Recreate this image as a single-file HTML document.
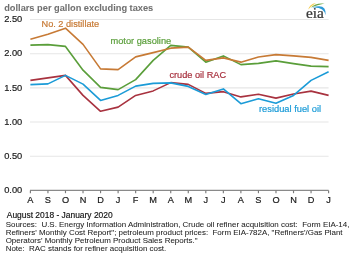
<!DOCTYPE html>
<html><head><meta charset="utf-8"><style>
html,body{margin:0;padding:0;background:#fff;}
body{width:352px;height:256px;overflow:hidden;position:relative;font-family:"Liberation Sans",sans-serif;}
svg{position:absolute;left:0;top:0;will-change:transform;}
text{white-space:pre;}
</style></head><body>
<svg width="352" height="256" viewBox="0 0 352 256" font-family="Liberation Sans" xml:space="preserve">
<text x="4.20" y="10.70" font-size="9.25" fill="#707070" stroke="#707070" stroke-width="0.05" font-weight="bold">dollars per gallon excluding taxes</text>
<line x1="30" x2="328.6" y1="156.23" y2="156.23" stroke="#e6e6e6" stroke-width="1.1"/><line x1="30" x2="328.6" y1="122.06" y2="122.06" stroke="#e6e6e6" stroke-width="1.1"/><line x1="30" x2="328.6" y1="87.89" y2="87.89" stroke="#e6e6e6" stroke-width="1.1"/><line x1="30" x2="328.6" y1="53.72" y2="53.72" stroke="#e6e6e6" stroke-width="1.1"/><line x1="30" x2="328.6" y1="19.55" y2="19.55" stroke="#e6e6e6" stroke-width="1.1"/>
<line x1="30" x2="328.6" y1="190.4" y2="190.4" stroke="#8a8a8a" stroke-width="1.1"/>
<line x1="30.40" x2="30.40" y1="190.4" y2="193.20000000000002" stroke="#7a7a7a" stroke-width="1.15"/><line x1="47.94" x2="47.94" y1="190.4" y2="193.20000000000002" stroke="#7a7a7a" stroke-width="1.15"/><line x1="65.48" x2="65.48" y1="190.4" y2="193.20000000000002" stroke="#7a7a7a" stroke-width="1.15"/><line x1="83.02" x2="83.02" y1="190.4" y2="193.20000000000002" stroke="#7a7a7a" stroke-width="1.15"/><line x1="100.56" x2="100.56" y1="190.4" y2="193.20000000000002" stroke="#7a7a7a" stroke-width="1.15"/><line x1="118.11" x2="118.11" y1="190.4" y2="193.20000000000002" stroke="#7a7a7a" stroke-width="1.15"/><line x1="135.65" x2="135.65" y1="190.4" y2="193.20000000000002" stroke="#7a7a7a" stroke-width="1.15"/><line x1="153.19" x2="153.19" y1="190.4" y2="193.20000000000002" stroke="#7a7a7a" stroke-width="1.15"/><line x1="170.73" x2="170.73" y1="190.4" y2="193.20000000000002" stroke="#7a7a7a" stroke-width="1.15"/><line x1="188.27" x2="188.27" y1="190.4" y2="193.20000000000002" stroke="#7a7a7a" stroke-width="1.15"/><line x1="205.81" x2="205.81" y1="190.4" y2="193.20000000000002" stroke="#7a7a7a" stroke-width="1.15"/><line x1="223.35" x2="223.35" y1="190.4" y2="193.20000000000002" stroke="#7a7a7a" stroke-width="1.15"/><line x1="240.89" x2="240.89" y1="190.4" y2="193.20000000000002" stroke="#7a7a7a" stroke-width="1.15"/><line x1="258.44" x2="258.44" y1="190.4" y2="193.20000000000002" stroke="#7a7a7a" stroke-width="1.15"/><line x1="275.98" x2="275.98" y1="190.4" y2="193.20000000000002" stroke="#7a7a7a" stroke-width="1.15"/><line x1="293.52" x2="293.52" y1="190.4" y2="193.20000000000002" stroke="#7a7a7a" stroke-width="1.15"/><line x1="311.06" x2="311.06" y1="190.4" y2="193.20000000000002" stroke="#7a7a7a" stroke-width="1.15"/><line x1="328.60" x2="328.60" y1="190.4" y2="193.20000000000002" stroke="#7a7a7a" stroke-width="1.15"/>
<g transform="translate(22.3 0) scale(0.96 1) translate(-22.3 0)"><text x="22.30" y="193.05" font-size="9.7" fill="#1a1a1a" stroke="#1a1a1a" stroke-width="0.2" text-anchor="end">0.00</text><text x="22.30" y="158.88" font-size="9.7" fill="#1a1a1a" stroke="#1a1a1a" stroke-width="0.2" text-anchor="end">0.50</text><text x="22.30" y="124.71" font-size="9.7" fill="#1a1a1a" stroke="#1a1a1a" stroke-width="0.2" text-anchor="end">1.00</text><text x="22.30" y="90.54" font-size="9.7" fill="#1a1a1a" stroke="#1a1a1a" stroke-width="0.2" text-anchor="end">1.50</text><text x="22.30" y="56.37" font-size="9.7" fill="#1a1a1a" stroke="#1a1a1a" stroke-width="0.2" text-anchor="end">2.00</text><text x="22.30" y="22.20" font-size="9.7" fill="#1a1a1a" stroke="#1a1a1a" stroke-width="0.2" text-anchor="end">2.50</text></g>
<text x="30.40" y="203.10" font-size="9.2" fill="#1a1a1a" stroke="#1a1a1a" stroke-width="0.2" text-anchor="middle">A</text><text x="47.94" y="203.10" font-size="9.2" fill="#1a1a1a" stroke="#1a1a1a" stroke-width="0.2" text-anchor="middle">S</text><text x="65.48" y="203.10" font-size="9.2" fill="#1a1a1a" stroke="#1a1a1a" stroke-width="0.2" text-anchor="middle">O</text><text x="83.02" y="203.10" font-size="9.2" fill="#1a1a1a" stroke="#1a1a1a" stroke-width="0.2" text-anchor="middle">N</text><text x="100.56" y="203.10" font-size="9.2" fill="#1a1a1a" stroke="#1a1a1a" stroke-width="0.2" text-anchor="middle">D</text><text x="118.11" y="203.10" font-size="9.2" fill="#1a1a1a" stroke="#1a1a1a" stroke-width="0.2" text-anchor="middle">J</text><text x="135.65" y="203.10" font-size="9.2" fill="#1a1a1a" stroke="#1a1a1a" stroke-width="0.2" text-anchor="middle">F</text><text x="153.19" y="203.10" font-size="9.2" fill="#1a1a1a" stroke="#1a1a1a" stroke-width="0.2" text-anchor="middle">M</text><text x="170.73" y="203.10" font-size="9.2" fill="#1a1a1a" stroke="#1a1a1a" stroke-width="0.2" text-anchor="middle">A</text><text x="188.27" y="203.10" font-size="9.2" fill="#1a1a1a" stroke="#1a1a1a" stroke-width="0.2" text-anchor="middle">M</text><text x="205.81" y="203.10" font-size="9.2" fill="#1a1a1a" stroke="#1a1a1a" stroke-width="0.2" text-anchor="middle">J</text><text x="223.35" y="203.10" font-size="9.2" fill="#1a1a1a" stroke="#1a1a1a" stroke-width="0.2" text-anchor="middle">J</text><text x="240.89" y="203.10" font-size="9.2" fill="#1a1a1a" stroke="#1a1a1a" stroke-width="0.2" text-anchor="middle">A</text><text x="258.44" y="203.10" font-size="9.2" fill="#1a1a1a" stroke="#1a1a1a" stroke-width="0.2" text-anchor="middle">S</text><text x="275.98" y="203.10" font-size="9.2" fill="#1a1a1a" stroke="#1a1a1a" stroke-width="0.2" text-anchor="middle">O</text><text x="293.52" y="203.10" font-size="9.2" fill="#1a1a1a" stroke="#1a1a1a" stroke-width="0.2" text-anchor="middle">N</text><text x="311.06" y="203.10" font-size="9.2" fill="#1a1a1a" stroke="#1a1a1a" stroke-width="0.2" text-anchor="middle">D</text><text x="328.60" y="203.10" font-size="9.2" fill="#1a1a1a" stroke="#1a1a1a" stroke-width="0.2" text-anchor="middle">J</text>
<g fill="none" stroke-width="1.6" stroke-linejoin="round">
<polyline points="30.40,45.15 47.94,44.65 65.48,46.40 83.02,70.15 100.56,87.40 118.11,89.65 135.65,79.65 153.19,60.40 170.73,45.40 188.27,47.15 205.81,62.15 223.35,55.90 240.89,64.65 258.44,63.40 275.98,60.90 293.52,63.65 311.06,66.15 328.60,66.65" stroke="#5a9e3a"/>
<polyline points="30.40,39.25 47.94,34.20 65.48,28.15 83.02,44.40 100.56,68.90 118.11,69.65 135.65,56.90 153.19,52.65 170.73,48.15 188.27,47.15 205.81,60.40 223.35,57.90 240.89,62.15 258.44,57.00 275.98,54.65 293.52,55.90 311.06,57.40 328.60,60.40" stroke="#c77a35"/>
<polyline points="30.40,80.40 47.94,77.90 65.48,75.40 83.02,95.40 100.56,111.30 118.11,107.15 135.65,95.40 153.19,90.90 170.73,82.65 188.27,84.40 205.81,93.40 223.35,91.65 240.89,96.90 258.44,94.20 275.98,98.10 293.52,94.00 311.06,91.10 328.60,95.40" stroke="#a8323f"/>
<polyline points="30.40,84.65 47.94,83.90 65.48,75.40 83.02,84.15 100.56,100.40 118.11,95.40 135.65,86.15 153.19,83.40 170.73,82.90 188.27,86.40 205.81,94.40 223.35,88.90 240.89,103.65 258.44,98.70 275.98,103.20 293.52,95.40 311.06,80.40 328.60,71.80" stroke="#1b9bd7"/>
</g>
<text x="41.50" y="27.30" font-size="9.2" fill="#c77a35" stroke="#c77a35" stroke-width="0.2">No. 2 distillate</text><text x="110.50" y="43.50" font-size="9.25" fill="#5a9e3a" stroke="#5a9e3a" stroke-width="0.2">motor gasoline</text><text x="169.40" y="77.50" font-size="9.2" fill="#a8323f" stroke="#a8323f" stroke-width="0.2">crude oil RAC</text><text x="259.00" y="112.10" font-size="9.3" fill="#1b9bd7" stroke="#1b9bd7" stroke-width="0.2">residual fuel oil</text>
<g>
<path d="M308.2,9.6 Q309.3,4.0 316,2.9 Q311.3,5.8 308.2,9.6 Z" fill="#f5cf55"/>
<path d="M311.0,7.4 Q315.5,2.6 324.6,3.6 Q317.5,5.0 311.0,7.4 Z" fill="#6fa845"/>
<path d="M312.0,7.6 Q326.8,2.8 325.6,15.2 Q323.8,6.4 312.0,7.6 Z" fill="#2b9ad8"/>
<text x="306" y="17.6" font-family="Liberation Serif" font-size="14" fill="#383838" stroke="#383838" stroke-width="0.25" transform="translate(306 0) scale(1.1 1) translate(-306 0)">eia</text>
</g>
<text x="6.80" y="217.50" font-size="8.44" fill="#111" stroke="#111" stroke-width="0.15">August 2018 - January 2020</text><text x="5.70" y="227.20" font-size="7.95" fill="#222" stroke="#222" stroke-width="0.05">Sources:  U.S. Energy Information Administration, Crude oil refiner acquisition cost:  Form EIA-14,</text><text x="5.70" y="234.90" font-size="7.95" fill="#222" stroke="#222" stroke-width="0.05">Refiners' Monthly Cost Report&quot;; petroleum product prices:  Form EIA-782A, &quot;Refiners'/Gas Plant</text><text x="5.70" y="243.00" font-size="7.95" fill="#222" stroke="#222" stroke-width="0.05">Operators' Monthly Petroleum Product Sales Reports.&quot;</text><text x="5.70" y="250.80" font-size="7.95" fill="#222" stroke="#222" stroke-width="0.05">Note:  RAC stands for refiner acquisition cost.</text>
</svg>
</body></html>
